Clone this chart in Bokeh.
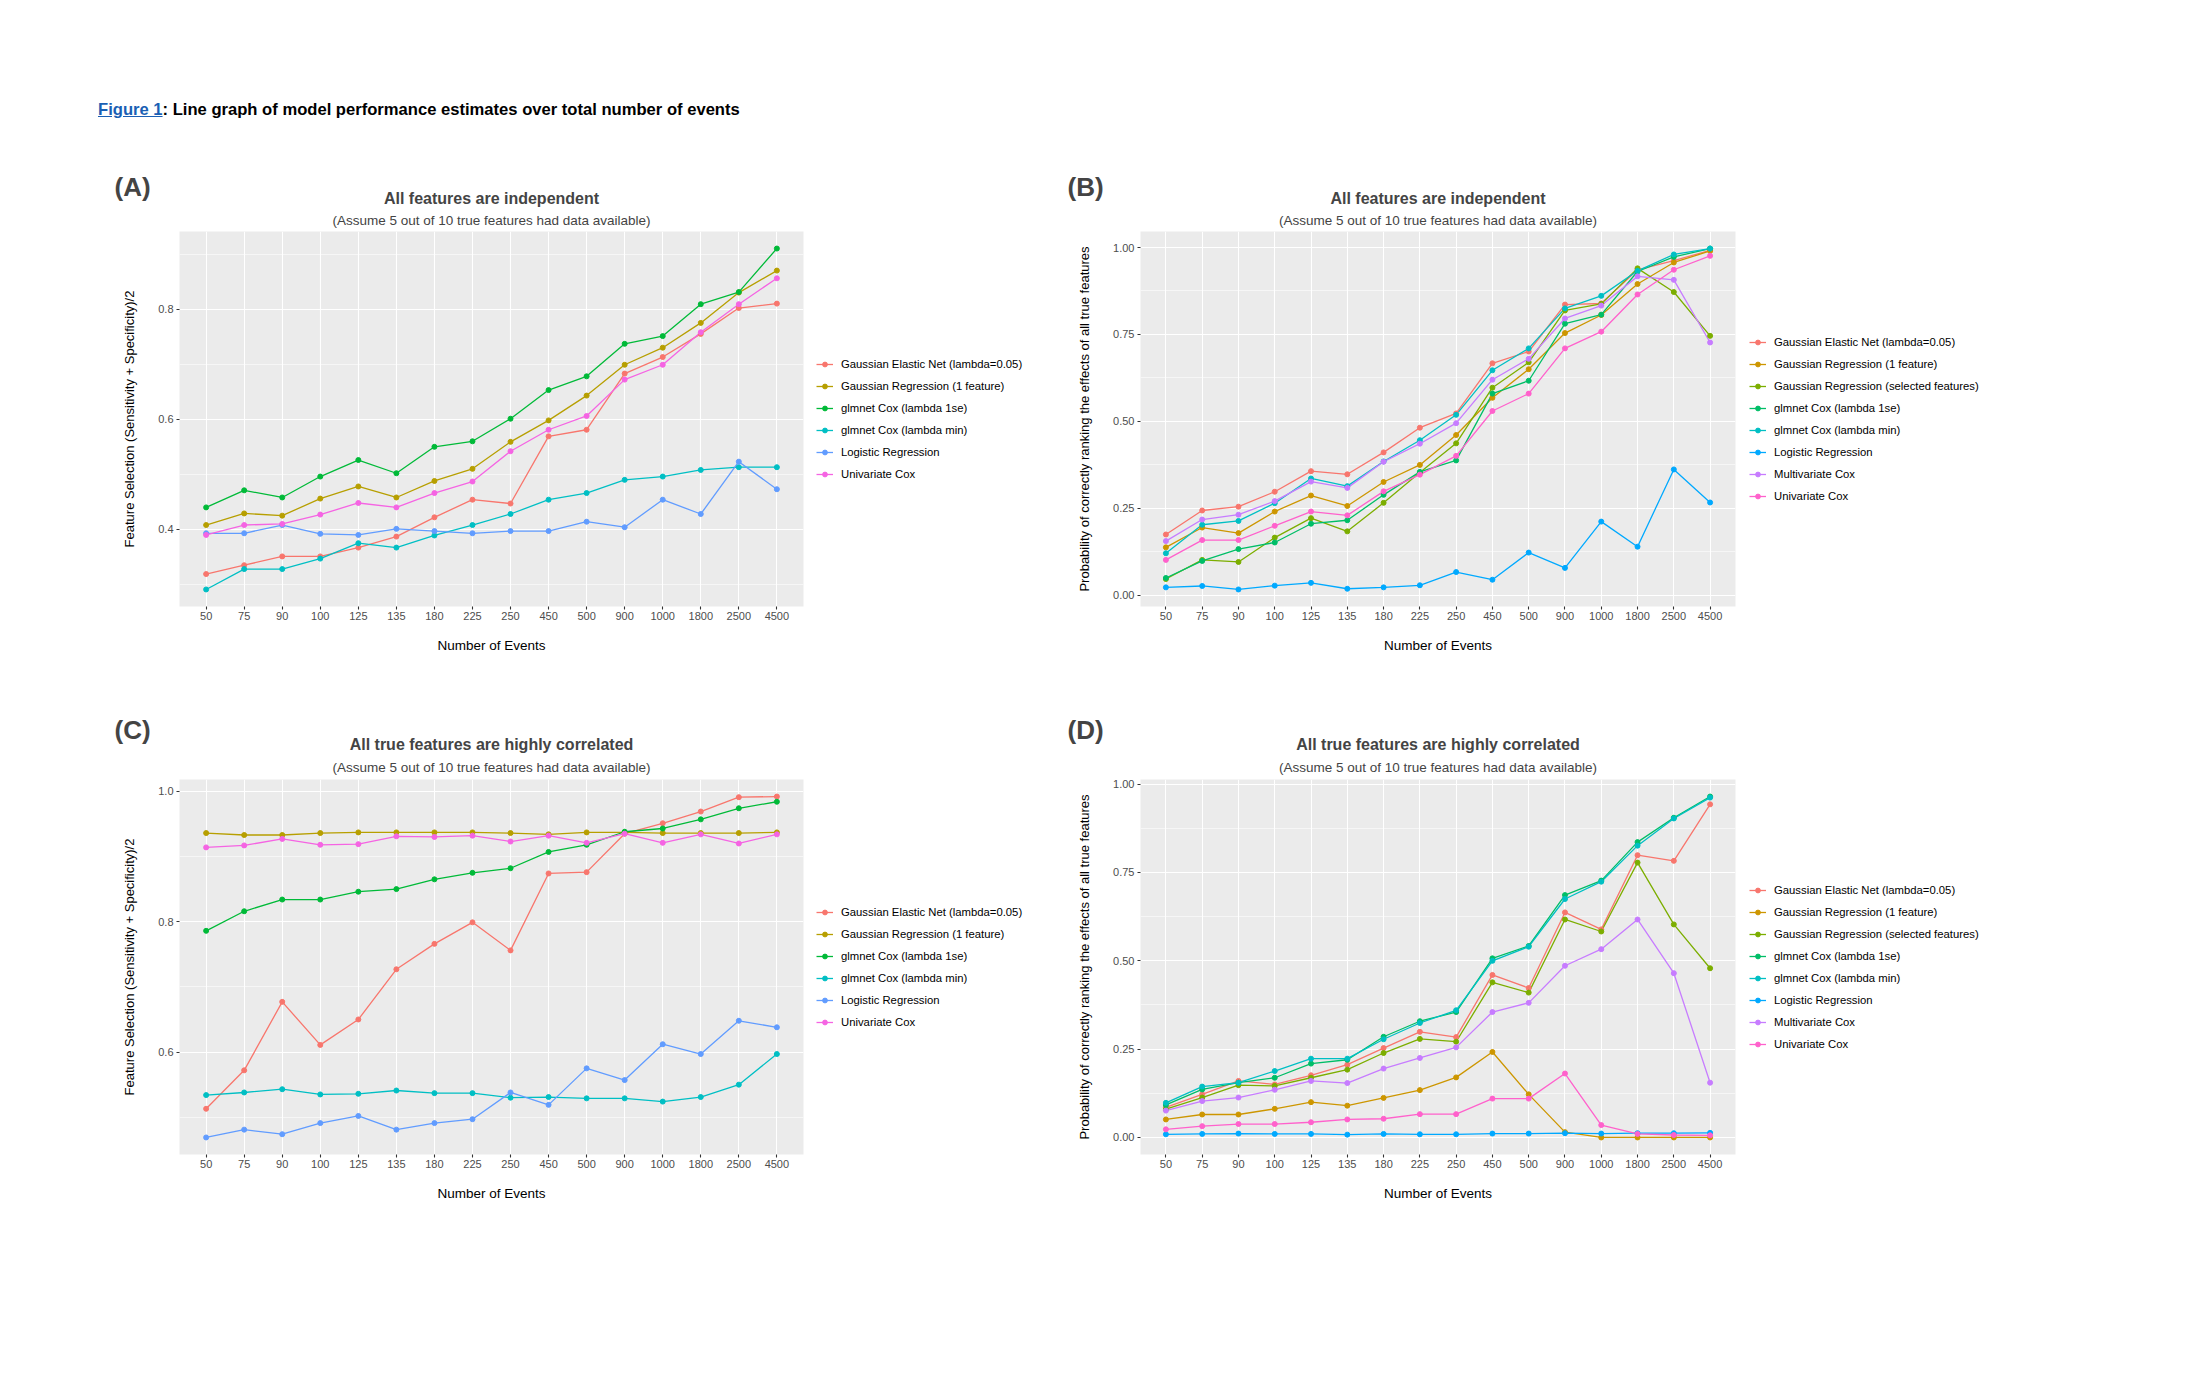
from bokeh.plotting import figure
from bokeh.models import (FactorRange, Range1d, FixedTicker, PrintfTickFormatter,
                          Legend, LegendItem, Title, Div)
from bokeh.layouts import column, row
from bokeh.embed import file_html
from bokeh.resources import INLINE

# ---------------- data ----------------
events = ["50", "75", "90", "100", "125", "135", "180", "225", "250",
          "450", "500", "900", "1000", "1800", "2500", "4500"]

names6 = ["Gaussian Elastic Net (lambda=0.05)", "Gaussian Regression (1 feature)",
          "glmnet Cox (lambda 1se)", "glmnet Cox (lambda min)",
          "Logistic Regression", "Univariate Cox"]
colors6 = ["#F8766D", "#B79F00", "#00BA38", "#00BFC4", "#619CFF", "#F564E3"]

names8 = ["Gaussian Elastic Net (lambda=0.05)", "Gaussian Regression (1 feature)",
          "Gaussian Regression (selected features)", "glmnet Cox (lambda 1se)",
          "glmnet Cox (lambda min)", "Logistic Regression",
          "Multivariate Cox", "Univariate Cox"]
colors8 = ["#F8766D", "#CD9600", "#7CAE00", "#00BE67", "#00BFC4", "#00A9FF",
           "#C77CFF", "#FF61CC"]

# Panel A: all features independent, feature selection
a_elastic = [0.319, 0.335, 0.351, 0.351, 0.367, 0.387, 0.422, 0.454, 0.447, 0.569, 0.581, 0.683, 0.713, 0.755, 0.802, 0.810]
a_gauss1 = [0.408, 0.429, 0.425, 0.456, 0.478, 0.458, 0.488, 0.510, 0.559, 0.598, 0.643, 0.699, 0.730, 0.775, 0.830, 0.870]
a_1se = [0.440, 0.471, 0.458, 0.496, 0.526, 0.502, 0.550, 0.560, 0.601, 0.653, 0.678, 0.737, 0.751, 0.809, 0.831, 0.910]
a_min = [0.291, 0.328, 0.328, 0.347, 0.375, 0.367, 0.389, 0.408, 0.428, 0.454, 0.466, 0.490, 0.496, 0.508, 0.513, 0.513]
a_logit = [0.393, 0.393, 0.408, 0.392, 0.390, 0.401, 0.397, 0.393, 0.397, 0.397, 0.414, 0.404, 0.454, 0.428, 0.523, 0.473]
a_unicox = [0.390, 0.408, 0.410, 0.427, 0.448, 0.440, 0.466, 0.487, 0.542, 0.581, 0.606, 0.672, 0.699, 0.758, 0.809, 0.856]

# Panel B: all features independent, ranking probability
b_elastic = [0.175, 0.244, 0.255, 0.298, 0.357, 0.348, 0.411, 0.482, 0.523, 0.667, 0.701, 0.836, 0.839, 0.936, 0.962, 0.992]
b_gauss1 = [0.138, 0.195, 0.179, 0.241, 0.287, 0.257, 0.326, 0.375, 0.461, 0.568, 0.650, 0.754, 0.806, 0.895, 0.957, 0.990]
b_gausssel = [0.047, 0.102, 0.096, 0.166, 0.222, 0.184, 0.266, 0.353, 0.437, 0.597, 0.670, 0.819, 0.838, 0.940, 0.872, 0.746]
b_1se = [0.050, 0.099, 0.133, 0.152, 0.206, 0.216, 0.289, 0.355, 0.388, 0.580, 0.617, 0.781, 0.807, 0.931, 0.973, 0.997]
b_min = [0.121, 0.203, 0.214, 0.265, 0.336, 0.314, 0.385, 0.446, 0.519, 0.647, 0.710, 0.825, 0.861, 0.933, 0.980, 0.997]
b_logit = [0.023, 0.027, 0.017, 0.028, 0.036, 0.019, 0.023, 0.029, 0.067, 0.045, 0.123, 0.079, 0.212, 0.140, 0.362, 0.267]
b_multicox = [0.156, 0.218, 0.232, 0.271, 0.327, 0.309, 0.384, 0.436, 0.495, 0.620, 0.680, 0.796, 0.833, 0.917, 0.907, 0.727]
b_unicox = [0.102, 0.159, 0.159, 0.200, 0.241, 0.230, 0.299, 0.347, 0.401, 0.530, 0.580, 0.710, 0.758, 0.865, 0.936, 0.976]

# Panel C: true features highly correlated, feature selection
c_elastic = [0.513, 0.572, 0.677, 0.611, 0.650, 0.727, 0.766, 0.799, 0.756, 0.874, 0.876, 0.935, 0.951, 0.969, 0.991, 0.992]
c_gauss1 = [0.936, 0.933, 0.933, 0.936, 0.937, 0.937, 0.937, 0.937, 0.936, 0.934, 0.937, 0.937, 0.936, 0.936, 0.936, 0.937]
c_1se = [0.786, 0.816, 0.834, 0.834, 0.846, 0.850, 0.865, 0.875, 0.882, 0.907, 0.918, 0.938, 0.943, 0.957, 0.974, 0.984]
c_min = [0.534, 0.538, 0.543, 0.535, 0.536, 0.541, 0.537, 0.537, 0.530, 0.531, 0.529, 0.529, 0.524, 0.531, 0.550, 0.597]
c_logit = [0.469, 0.481, 0.474, 0.491, 0.502, 0.481, 0.491, 0.497, 0.538, 0.519, 0.575, 0.557, 0.612, 0.597, 0.648, 0.638]
c_unicox = [0.914, 0.917, 0.927, 0.918, 0.919, 0.931, 0.930, 0.932, 0.923, 0.932, 0.921, 0.935, 0.921, 0.934, 0.920, 0.934]

# Panel D: true features highly correlated, ranking probability
d_elastic = [0.085, 0.122, 0.160, 0.150, 0.176, 0.206, 0.253, 0.299, 0.284, 0.460, 0.423, 0.637, 0.589, 0.799, 0.783, 0.943]
d_gauss1 = [0.051, 0.065, 0.065, 0.081, 0.100, 0.090, 0.112, 0.134, 0.170, 0.242, 0.122, 0.015, 0.000, 0.000, 0.000, 0.000]
d_gausssel = [0.080, 0.113, 0.148, 0.146, 0.169, 0.192, 0.239, 0.279, 0.271, 0.439, 0.410, 0.617, 0.583, 0.778, 0.603, 0.479]
d_1se = [0.092, 0.136, 0.155, 0.169, 0.209, 0.220, 0.285, 0.329, 0.355, 0.507, 0.542, 0.686, 0.727, 0.836, 0.905, 0.965]
d_min = [0.098, 0.144, 0.155, 0.188, 0.223, 0.223, 0.278, 0.324, 0.360, 0.500, 0.540, 0.675, 0.724, 0.826, 0.903, 0.962]
d_logit = [0.009, 0.010, 0.011, 0.010, 0.010, 0.008, 0.010, 0.009, 0.009, 0.011, 0.011, 0.012, 0.011, 0.012, 0.012, 0.013]
d_multicox = [0.076, 0.103, 0.113, 0.135, 0.160, 0.154, 0.195, 0.225, 0.255, 0.355, 0.381, 0.486, 0.533, 0.617, 0.465, 0.155]
d_unicox = [0.023, 0.032, 0.038, 0.038, 0.043, 0.051, 0.053, 0.066, 0.066, 0.110, 0.110, 0.181, 0.035, 0.010, 0.007, 0.006]

caption_link = "Figure 1"
caption_rest = ": Line graph of model performance estimates over total number of events"
title_indep = "All features are independent"
title_corr = "All true features are highly correlated"
subtitle = "(Assume 5 out of 10 true features had data available)"
xlab = "Number of Events"
ylab_fs = "Feature Selection (Sensitivity + Specificity)/2"
ylab_rank = "Probability of correctly ranking the effects of all true features"

ticks_fs_a = [0.4, 0.6, 0.8]
minor_fs_a = [0.3, 0.5, 0.7, 0.9]
ticks_fs_c = [0.6, 0.8, 1.0]
minor_fs_c = [0.5, 0.7, 0.9]
ticks_rank = [0.0, 0.25, 0.5, 0.75, 1.0]
minor_rank = [0.125, 0.375, 0.625, 0.875]

FONT = "Liberation Sans"
FRAME_H = 379
BORDER_BOTTOM = 70


def make_panel(series, colors, ylab, main_title, letter, ticks, minor, fmt,
               border_left, frame_w, border_top, letter_offset, sub_standoff, letter_standoff):
    p = figure(x_range=FactorRange(factors=events, range_padding=0.2,
                                   range_padding_units="absolute"),
               width=border_left + frame_w + 5,
               height=border_top + FRAME_H + BORDER_BOTTOM,
               min_border_left=border_left, min_border_right=5,
               min_border_top=border_top, min_border_bottom=BORDER_BOTTOM,
               sizing_mode="fixed",
               output_backend="svg", toolbar_location=None, title=None)
    allv = [v for s in series for v in s]
    lo, hi = min(allv), max(allv)
    pad = 0.05 * (hi - lo)
    p.y_range = Range1d(lo - pad, hi + pad)

    p.background_fill_color = "#EBEBEB"
    p.border_fill_color = "white"
    p.outline_line_color = None

    p.yaxis.ticker = FixedTicker(ticks=ticks, minor_ticks=minor)
    p.yaxis.formatter = PrintfTickFormatter(format=fmt)
    for ax in (p.xaxis[0], p.yaxis[0]):
        ax.axis_line_color = None
        ax.major_tick_in = 0
        ax.major_tick_out = 3
        ax.major_tick_line_color = "#333333"
        ax.major_tick_line_width = 1.1
        ax.minor_tick_line_color = None
        ax.major_label_text_font = FONT
        ax.major_label_text_font_size = "11px"
        ax.major_label_text_color = "#4D4D4D"
        ax.major_label_standoff = 2
        ax.axis_label_text_font = FONT
        ax.axis_label_text_font_style = "normal"
        ax.axis_label_text_color = "black"
    p.xaxis.axis_label = xlab
    p.xaxis.axis_label_text_font_size = "13.5px"
    p.xaxis.axis_label_standoff = 15
    p.yaxis.axis_label = ylab
    p.yaxis.axis_label_text_font_size = "13px"
    p.yaxis.axis_label_standoff = 18

    p.xgrid.grid_line_color = "white"
    p.xgrid.grid_line_width = 1.1
    p.ygrid.grid_line_color = "white"
    p.ygrid.grid_line_width = 1.1
    p.ygrid.minor_grid_line_color = "white"
    p.ygrid.minor_grid_line_width = 0.55

    for s, c in zip(series, colors):
        p.line(events, s, line_color=c, line_width=1.3)
    for s, c in zip(series, colors):
        p.scatter(events, s, marker="circle", size=5, fill_color=c, line_color=c)

    p.add_layout(Title(text=subtitle, align="center", text_font=FONT,
                       text_font_size="13.5px", text_font_style="normal",
                       standoff=sub_standoff), "above")
    p.add_layout(Title(text=main_title, align="center", text_font=FONT,
                       text_font_size="16px", text_font_style="bold",
                       standoff=2), "above")
    p.add_layout(Title(text=letter, align="left", offset=letter_offset,
                       text_font=FONT, text_font_size="26px",
                       text_font_style="bold", standoff=letter_standoff), "above")
    return p


def make_legend(series, names, colors, width, border_top, height, margin):
    # legend-only figure: the series are drawn far outside its visible y range,
    # so only the legend keys (line + point) show
    q = figure(width=width, height=height,
               x_range=FactorRange(factors=events), y_range=Range1d(10, 11),
               min_border_left=0, min_border_right=0, min_border_top=border_top,
               min_border_bottom=height - border_top - FRAME_H,
               x_axis_location=None, y_axis_location=None, sizing_mode="fixed",
               output_backend="svg", toolbar_location=None, title=None)
    q.grid.visible = False
    q.outline_line_color = None
    q.background_fill_color = "white"
    q.border_fill_color = "white"
    items = []
    for s, n, c in zip(series, names, colors):
        l = q.line(events, s, line_color=c, line_width=1.3)
        m = q.scatter(events, s, marker="circle", size=5, fill_color=c, line_color=c)
        items.append(LegendItem(label=n, renderers=[l, m]))
    leg = Legend(items=items, location="left", orientation="vertical",
                 label_text_font=FONT, label_text_font_size="11.3px",
                 label_text_color="black", glyph_width=17, glyph_height=12,
                 label_height=12, spacing=10, padding=10, margin=margin,
                 label_standoff=8, border_line_color=None,
                 background_fill_alpha=0)
    q.add_layout(leg)
    return q


H1 = 109 + FRAME_H + BORDER_BOTTOM
H2 = 99 + FRAME_H + BORDER_BOTTOM

sA = [a_elastic, a_gauss1, a_1se, a_min, a_logit, a_unicox]
sB = [b_elastic, b_gauss1, b_gausssel, b_1se, b_min, b_logit, b_multicox, b_unicox]
sC = [c_elastic, c_gauss1, c_1se, c_min, c_logit, c_unicox]
sD = [d_elastic, d_gauss1, d_gausssel, d_1se, d_min, d_logit, d_multicox, d_unicox]

pA = make_panel(sA, colors6, ylab_fs, title_indep, "(A)", ticks_fs_a, minor_fs_a, "%.1f",
                179, 624, 109, -65, 7, -30)
lA = make_legend(sA, names6, colors6, 235, 113, H1, 8)
pB = make_panel(sB, colors8, ylab_rank, title_indep, "(B)", ticks_rank, minor_rank, "%.2f",
                97, 595, 109, -73, 7, -30)
lB = make_legend(sB, names8, colors8, 300, 113, H1, 9)
pC = make_panel(sC, colors6, ylab_fs, title_corr, "(C)", ticks_fs_c, minor_fs_c, "%.1f",
                179, 624, 99, -65, 9, -25)
lC = make_legend(sC, names6, colors6, 235, 103, H2, 8)
pD = make_panel(sD, colors8, ylab_rank, title_corr, "(D)", ticks_rank, minor_rank, "%.2f",
                97, 595, 99, -73, 9, -25)
lD = make_legend(sD, names8, colors8, 300, 103, H2, 9)

cap = Div(text=('<div style="padding:100px 0 0 98px; font-family:\'Liberation Sans\', Arial, sans-serif;'
                ' font-weight:bold; font-size:16.6px; color:#000; white-space:nowrap; line-height:19px;">'
                '<span style="color:#1a5fb4; text-decoration:underline;">' + caption_link + '</span>'
                + caption_rest + '</div>'),
          width=1200, height=118, margin=(0, 0, 0, 0), sizing_mode="fixed")

row1 = row(pA, lA, pB, lB, spacing=0, sizing_mode="fixed")
row2 = row(pC, lC, pD, lD, spacing=0, sizing_mode="fixed")
layout = column(cap, row1, row2, spacing=0, sizing_mode="fixed")

open("out.html", "w").write(file_html(layout, INLINE))
